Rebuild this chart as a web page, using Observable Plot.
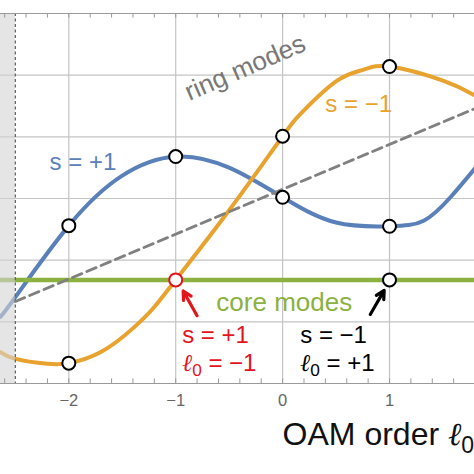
<!DOCTYPE html>
<html>
<head>
<meta charset="utf-8">
<script src="https://cdn.jsdelivr.net/npm/d3@7"></script>
<script src="https://cdn.jsdelivr.net/npm/@observablehq/plot@0.6"></script>
<style>
  html, body { margin: 0; padding: 0; background: #fff; }
  #chart { width: 474px; height: 474px; overflow: hidden; }
</style>
</head>
<body>
<div id="chart"></div>
<script>
// ---- data ----
const blueX   = [-2.64, -2.5, -2, -1.5, -1, -0.5, 0, 0.5, 1, 1.32, 1.57, 1.8];
const blueY   = [1.08, 1.40, 2.56, 3.37, 3.68, 3.50, 3.02, 2.61, 2.55, 2.64, 3.02, 3.49];
const orangeX = [-2.64, -2.5, -2.2, -2, -1.7, -1.39, -1.2, -1, -0.5, 0, 0.2, 0.51, 0.76, 1, 1.5, 1.8];
const orangeY = [0.51, 0.40, 0.32, 0.33, 0.51, 0.91, 1.24, 1.68, 2.81, 4.01, 4.43, 4.91, 5.09, 5.14, 4.91, 4.67];
const ringX   = [-2.5, 1.8];
const ringY   = [1.33, 4.46];
const coreLevel = 1.68;
const modeX      = [-2, -1, 0, 1];
const blueModes  = [2.56, 3.68, 3.02, 2.55];
const orangeModes = [0.33, 1.68, 4.01, 5.14];
const coreModeX  = [1];
const cutoffX    = -2.5;
const tickValues = [-2, -1, 0, 1];
const gridX      = [-2, -1, 0, 1];
const gridY      = [1, 2, 3, 4, 5];
const minorTicks = [-2.6, -2.4, -2.2, -2, -1.8, -1.6, -1.4, -1.2, -1, -0.8, -0.6, -0.4, -0.2, 0, 0.2, 0.4, 0.6, 0.8, 1, 1.2, 1.4, 1.6, 1.8];
const labelTexts = ["s = +1", "s = −1", "ring modes", "core modes", "s = +1", "ℓ₀ = −1", "s = −1", "ℓ₀ = +1"];
const axisTitle = "OAM order ℓ₀";

// ---- build tables ----
const zip = (xs, ys) => xs.map((x, i) => ({x, y: ys[i]}));
const blue = zip(blueX, blueY);
const orange = zip(orangeX, orangeY);
const ring = zip(ringX, ringY);
const blueDots = zip(modeX, blueModes);
const orangeDots = zip(modeX, orangeModes);

const X0 = -2.639, X1 = 1.795;
const C_BLUE = "#5a80b9", C_ORANGE = "#e8a22e", C_GREEN = "#8bb13f", C_RED = "#e3141b";
const FONT = "Liberation Sans, Arial, Helvetica, sans-serif";
const fmt = d => d < 0 ? "−" + Math.abs(d) : String(d);

const chart = Plot.plot({
  width: 474, height: 474,
  marginLeft: 0, marginRight: 0, marginTop: 13, marginBottom: 91,
  x: {domain: [X0, X1], axis: null},
  y: {domain: [0, 6], axis: null},
  style: {fontFamily: FONT, background: "white", overflow: "visible"},
  marks: [
    Plot.ruleX(gridX, {stroke: "#c4c4c4", strokeWidth: 1.2}),
    Plot.ruleY(gridY, {stroke: "#c4c4c4", strokeWidth: 1.2}),
    Plot.line(blue, {x: "x", y: "y", curve: "natural", stroke: C_BLUE, strokeWidth: 4}),
    Plot.line(orange, {x: "x", y: "y", curve: "natural", stroke: C_ORANGE, strokeWidth: 4}),
    Plot.ruleY([coreLevel], {stroke: C_GREEN, strokeWidth: 4.5}),
    // shaded region beyond cutoff
    Plot.rect([{x1: X0, x2: cutoffX, y1: 0, y2: 6}], {x1: "x1", x2: "x2", y1: "y1", y2: "y2", fill: "#d4d4d4", fillOpacity: 0.6}),
    Plot.ruleX([cutoffX], {stroke: "#666", strokeWidth: 1.3, strokeDasharray: "3,2.5"}),
    Plot.line(ring, {x: "x", y: "y", stroke: "#808080", strokeWidth: 2.8, strokeDasharray: "10,5.5"}),
    // frame with minor ticks
    Plot.ruleY([0, 6], {stroke: "#9a9a9a", strokeWidth: 1.2}),
    Plot.ruleX(minorTicks, {y1: 0, y2: 0.075, stroke: "#9a9a9a", strokeWidth: 1}),
    Plot.ruleX(minorTicks, {y1: 6, y2: 5.925, stroke: "#9a9a9a", strokeWidth: 1}),
    // mode markers
    Plot.dot(blueDots, {x: "x", y: "y", r: 6.5, fill: "white", stroke: "black", strokeWidth: 2}),
    Plot.dot(orangeDots, {x: "x", y: "y", r: 6.5, fill: "white", stroke: d => d.x === -1 ? C_RED : "black", strokeWidth: 2}),
    Plot.dot(coreModeX, {x: d => d, y: () => coreLevel, r: 6.5, fill: "white", stroke: "black", strokeWidth: 2}),
    // arrows
    Plot.arrow([{x1: -0.80, y1: 1.10, x2: -0.93, y2: 1.50}], {x1: "x1", y1: "y1", x2: "x2", y2: "y2", stroke: C_RED, strokeWidth: 3.2, headLength: 9, headAngle: 55}),
    Plot.arrow([{x1: 0.82, y1: 1.12, x2: 0.95, y2: 1.51}], {x1: "x1", y1: "y1", x2: "x2", y2: "y2", stroke: "black", strokeWidth: 3.2, headLength: 9, headAngle: 55}),
    // labels
    Plot.text([labelTexts[0]], {x: -2.18, y: 3.47, textAnchor: "start", lineAnchor: "bottom", fontSize: 24, fill: C_BLUE}),
    Plot.text([labelTexts[1]], {x: 0.40, y: 4.41, textAnchor: "start", lineAnchor: "bottom", fontSize: 24, fill: C_ORANGE}),
    Plot.text([labelTexts[2]], {x: -0.35, y: 5.12, textAnchor: "middle", lineAnchor: "middle", rotate: -23.5, fontSize: 26, fill: "#777"}),
    Plot.text([labelTexts[3]], {x: -0.62, y: 1.18, textAnchor: "start", lineAnchor: "bottom", fontSize: 26, fill: C_GREEN}),
    Plot.text([labelTexts[4]], {x: -0.94, y: 0.65, textAnchor: "start", lineAnchor: "bottom", fontSize: 24, fill: C_RED}),
    Plot.text([labelTexts[5]], {x: -0.94, y: 0.21, textAnchor: "start", lineAnchor: "bottom", fontSize: 24, fill: C_RED}),
    Plot.text([labelTexts[6]], {x: 0.165, y: 0.65, textAnchor: "start", lineAnchor: "bottom", fontSize: 24, fill: "black"}),
    Plot.text([labelTexts[7]], {x: 0.165, y: 0.21, textAnchor: "start", lineAnchor: "bottom", fontSize: 24, fill: "black"}),
    Plot.text([axisTitle], {x: 0, y: -1.005, textAnchor: "start", lineAnchor: "bottom", fontSize: 32, fill: "#111"}),
    // tick labels
    Plot.text(tickValues, {x: d => d, y: () => -0.37, text: fmt, textAnchor: "middle", lineAnchor: "bottom", fontSize: 16.5, fill: "#666"})
  ]
});

// typeset ℓ₀ as italic ℓ with subscript 0
chart.querySelectorAll("text").forEach(t => {
  const s = t.textContent;
  if (!s.includes("ℓ₀")) return;
  const [a, b] = s.split("ℓ₀");
  t.textContent = a;
  const ns = "http://www.w3.org/2000/svg";
  const l = document.createElementNS(ns, "tspan");
  l.setAttribute("font-style", "italic");
  l.setAttribute("font-family", "DejaVu Serif, serif");
  l.textContent = "ℓ";
  const sub = document.createElementNS(ns, "tspan");
  sub.setAttribute("dy", "0.32em");
  sub.setAttribute("font-size", "0.72em");
  sub.textContent = "0";
  const rest = document.createElementNS(ns, "tspan");
  rest.setAttribute("dy", "-0.23em");
  rest.textContent = b;
  t.append(l, sub, rest);
});

document.getElementById("chart").append(chart);
</script>
</body>
</html>
